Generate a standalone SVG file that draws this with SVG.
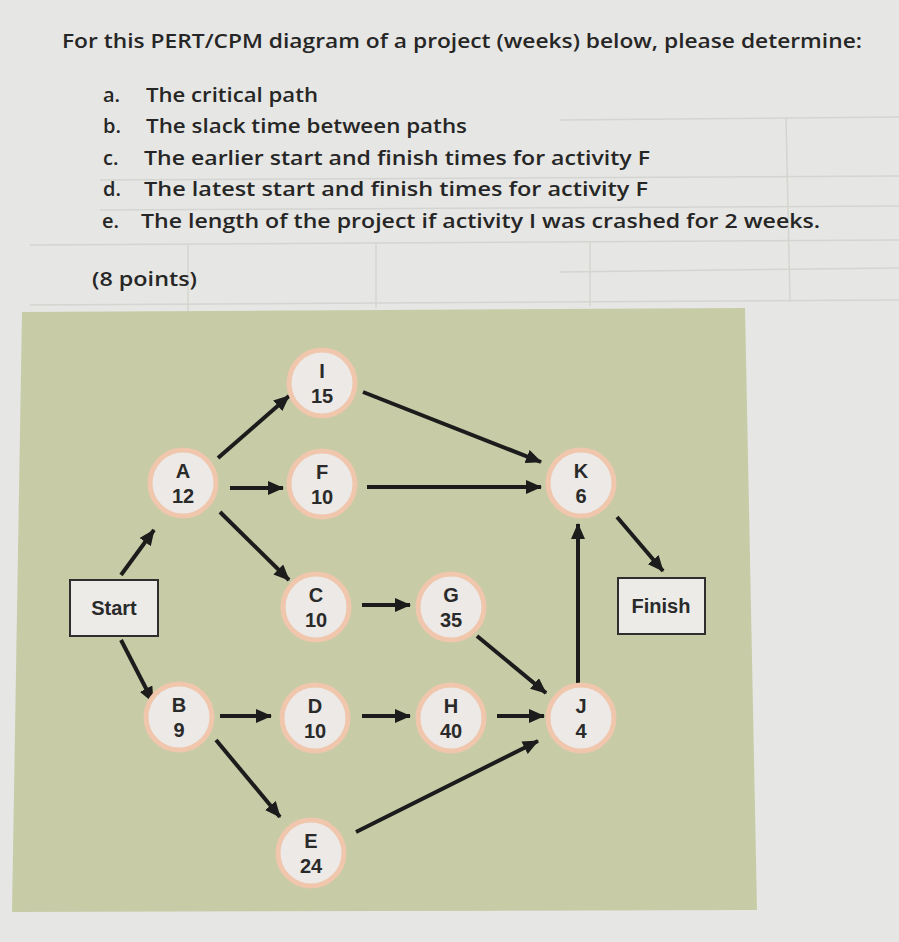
<svg xmlns="http://www.w3.org/2000/svg" width="899" height="942" viewBox="0 0 899 942">
<defs>
<marker id="ah" markerUnits="userSpaceOnUse" markerWidth="16" markerHeight="14" refX="15" refY="7" orient="auto">
<path d="M0,0 L16,7 L0,14 z" fill="#1c1c1c"/>
</marker>
<style>
.q{font-family:"Open Sans","Liberation Sans",sans-serif;font-size:20px;font-weight:600;fill:#262626}
.tl{stroke:#d4d4d1;stroke-width:1.5;fill:none}
.n circle{fill:#ece9e6;stroke:#f0c6ac;stroke-width:5}
.n text,.b text{font-family:"Liberation Sans",Arial,sans-serif;font-weight:bold;font-size:20px;fill:#2a2a2a;text-anchor:middle}
.b rect{fill:#ecebe8;stroke:#2e2e2e;stroke-width:2}
#edges line{stroke:#1c1c1c;stroke-width:4;marker-end:url(#ah)}
</style>
</defs>
<rect width="899" height="942" fill="#e6e6e4"/>
<g id="table">
<line class="tl" x1="560" y1="120" x2="899" y2="117"/>
<line class="tl" x1="100" y1="180" x2="899" y2="176"/>
<line class="tl" x1="100" y1="210" x2="899" y2="206"/>
<line class="tl" x1="30" y1="245" x2="899" y2="240"/>
<line class="tl" x1="560" y1="272" x2="899" y2="268"/>
<line class="tl" x1="30" y1="305" x2="899" y2="300"/>
<line class="tl" x1="786" y1="118" x2="790" y2="302"/>
<line class="tl" x1="188" y1="245" x2="188" y2="312"/>
<line class="tl" x1="376" y1="244" x2="376" y2="308"/>
<line class="tl" x1="590" y1="242" x2="590" y2="306"/>
</g>
<polygon id="panel" points="22,312 745,308 757,910 12,912" fill="#c7cca6"/>
<g id="question">
<text class="q" x="62" y="48" textLength="800" lengthAdjust="spacingAndGlyphs">For this PERT/CPM diagram of a project (weeks) below, please determine:</text>
<text class="q" x="103" y="102">a.</text>
<text class="q" x="146" y="102" textLength="172" lengthAdjust="spacingAndGlyphs">The critical path</text>
<text class="q" x="103" y="133">b.</text>
<text class="q" x="146" y="133" textLength="321" lengthAdjust="spacingAndGlyphs">The slack time between paths</text>
<text class="q" x="103" y="165">c.</text>
<text class="q" x="144" y="165" textLength="506" lengthAdjust="spacingAndGlyphs">The earlier start and finish times for activity F</text>
<text class="q" x="103" y="196">d.</text>
<text class="q" x="144" y="196" textLength="504" lengthAdjust="spacingAndGlyphs">The latest start and finish times for activity F</text>
<text class="q" x="102" y="228">e.</text>
<text class="q" x="141" y="228" textLength="679" lengthAdjust="spacingAndGlyphs">The length of the project if activity I was crashed for 2 weeks.</text>
<text class="q" x="92" y="286" textLength="105" lengthAdjust="spacingAndGlyphs">(8 points)</text>
</g>
<g id="edges">
<line x1="121" y1="575" x2="154" y2="530"/>
<line x1="121" y1="640" x2="153" y2="702"/>
<line x1="218" y1="458" x2="289" y2="396"/>
<line x1="230" y1="488" x2="283" y2="488"/>
<line x1="220" y1="512" x2="289" y2="580"/>
<line x1="363" y1="392" x2="541" y2="462"/>
<line x1="367" y1="487" x2="541" y2="487"/>
<line x1="362" y1="605" x2="410" y2="605"/>
<line x1="477" y1="636" x2="546" y2="693"/>
<line x1="220" y1="716" x2="271" y2="716"/>
<line x1="362" y1="716" x2="410" y2="716"/>
<line x1="497" y1="716" x2="544" y2="716"/>
<line x1="216" y1="740" x2="280" y2="817"/>
<line x1="356" y1="832" x2="538" y2="741"/>
<line x1="578" y1="688" x2="578" y2="524"/>
<line x1="617" y1="517" x2="663" y2="571"/>
</g>
<g id="start" class="b"><rect x="70" y="580" width="88" height="56"/><text x="114" y="615">Start</text></g>
<g id="finish" class="b"><rect x="618" y="578" width="87" height="56"/><text x="661" y="613">Finish</text></g>
<g id="nI" class="n"><circle cx="322" cy="383" r="33"/><text x="322" y="378">I</text><text x="322" y="403">15</text></g>
<g id="nA" class="n"><circle cx="183" cy="483" r="33"/><text x="183" y="478">A</text><text x="183" y="503">12</text></g>
<g id="nF" class="n"><circle cx="322" cy="484" r="33"/><text x="322" y="479">F</text><text x="322" y="504">10</text></g>
<g id="nK" class="n"><circle cx="581" cy="483" r="33"/><text x="581" y="478">K</text><text x="581" y="503">6</text></g>
<g id="nC" class="n"><circle cx="316" cy="607" r="33"/><text x="316" y="602">C</text><text x="316" y="627">10</text></g>
<g id="nG" class="n"><circle cx="451" cy="607" r="33"/><text x="451" y="602">G</text><text x="451" y="627">35</text></g>
<g id="nB" class="n"><circle cx="179" cy="717" r="33"/><text x="179" y="712">B</text><text x="179" y="737">9</text></g>
<g id="nD" class="n"><circle cx="315" cy="718" r="33"/><text x="315" y="713">D</text><text x="315" y="738">10</text></g>
<g id="nH" class="n"><circle cx="451" cy="718" r="33"/><text x="451" y="713">H</text><text x="451" y="738">40</text></g>
<g id="nJ" class="n"><circle cx="581" cy="718" r="33"/><text x="581" y="713">J</text><text x="581" y="738">4</text></g>
<g id="nE" class="n"><circle cx="311" cy="853" r="33"/><text x="311" y="848">E</text><text x="311" y="873">24</text></g>
</svg>
